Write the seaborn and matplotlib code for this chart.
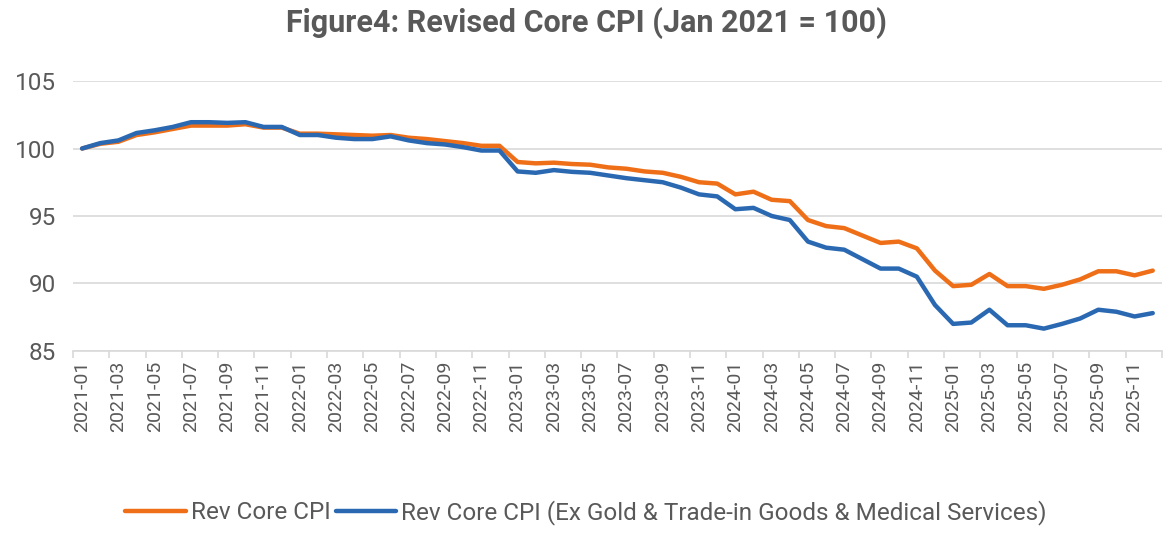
import numpy as np
import pandas as pd
import matplotlib
matplotlib.use("Agg")
import matplotlib.pyplot as plt
import seaborn as sns

months = pd.period_range("2021-01", "2025-12", freq="M").strftime("%Y-%m").tolist()

rev_core_cpi = [
    100.0, 100.35, 100.5, 101.0, 101.2, 101.45, 101.7, 101.7, 101.7, 101.8, 101.55, 101.55,
    101.1, 101.1, 101.05, 101.0, 100.95, 101.0, 100.8, 100.7, 100.55, 100.4, 100.2, 100.2,
    99.0, 98.9, 98.95, 98.85, 98.8, 98.6, 98.5, 98.3, 98.2, 97.9, 97.5, 97.4,
    96.6, 96.8, 96.2, 96.1, 94.7, 94.25, 94.1, 93.55, 93.0, 93.1, 92.6, 90.95,
    89.8, 89.9, 90.7, 89.8, 89.8, 89.6, 89.9, 90.3, 90.9, 90.9, 90.6, 90.95,
]
rev_core_cpi_ex = [
    100.0, 100.4, 100.6, 101.15, 101.35, 101.6, 101.95, 101.95, 101.9, 101.95, 101.6, 101.6,
    101.0, 101.0, 100.8, 100.7, 100.7, 100.9, 100.6, 100.4, 100.3, 100.1, 99.85, 99.85,
    98.3, 98.2, 98.4, 98.27, 98.2, 98.0, 97.8, 97.65, 97.5, 97.1, 96.6, 96.45,
    95.5, 95.6, 95.0, 94.7, 93.1, 92.65, 92.5, 91.8, 91.1, 91.1, 90.5, 88.4,
    87.0, 87.1, 88.05, 86.9, 86.9, 86.65, 87.0, 87.4, 88.05, 87.9, 87.55, 87.8,
]
series_names = ["Rev Core CPI", "Rev Core CPI (Ex Gold & Trade-in Goods & Medical Services)"]
y_ticks = [85, 90, 95, 100, 105]
title = "Figure4: Revised Core CPI (Jan 2021 = 100)"

df = pd.DataFrame({
    "idx": list(range(len(months))) * 2,
    "value": rev_core_cpi + rev_core_cpi_ex,
    "series": [series_names[0]] * len(months) + [series_names[1]] * len(months),
})

sns.set_theme(style="white")
plt.rcParams["font.family"] = ["Roboto", "DejaVu Sans"]
text_color = "#595959"
grid_color = "#D9D9D9"

fig = plt.figure(figsize=(11.72, 5.44), dpi=100)
ax = fig.add_axes([0.0623, 0.355, 0.929, 0.496])

sns.lineplot(data=df, x="idx", y="value", hue="series",
             palette={series_names[0]: "#EE6F17", series_names[1]: "#2A69B2"},
             linewidth=3.2, ax=ax, legend=True)

ax.set_xlim(-0.5, len(months) - 0.5)
ax.set_ylim(85, 105)
ax.set_yticks(y_ticks)
ax.set_yticklabels([str(v) for v in y_ticks])
ax.yaxis.grid(True, color=grid_color, linewidth=1.2)
ax.set_axisbelow(True)
ax.set_xlabel("")
ax.set_ylabel("")

major = list(range(0, len(months), 2))
ax.set_xticks(major)
ax.set_xticklabels([months[i] for i in major], rotation=90)
ax.set_xticks(np.arange(-0.5, len(months), 2), minor=True)
ax.tick_params(axis="x", which="major", length=0, pad=7, labelsize=14, labelcolor=text_color)
ax.tick_params(axis="x", which="minor", length=5, width=1.2, color=grid_color, bottom=True)
ax.tick_params(axis="y", length=0, pad=12, labelsize=17.5, labelcolor=text_color)

for s in ["left", "right", "top"]:
    ax.spines[s].set_visible(False)
ax.spines["bottom"].set_color(grid_color)
ax.spines["bottom"].set_linewidth(1.2)

handles, labels = ax.get_legend_handles_labels()
ax.legend_.remove()
fig.legend(handles, labels, loc="center", bbox_to_anchor=(0.5, 0.058), ncol=2,
           frameon=False, fontsize=17.5, handlelength=2.5, handletextpad=0.2,
           columnspacing=0.2, labelcolor=text_color)

fig.suptitle(title, x=0.5, y=0.958, va="center", fontsize=22, fontweight="bold", color=text_color)

fig.savefig("out.png", dpi=100)
